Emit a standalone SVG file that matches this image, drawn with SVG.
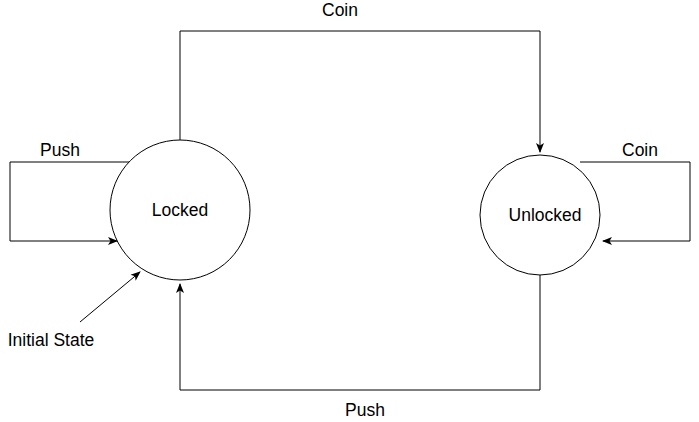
<svg xmlns="http://www.w3.org/2000/svg" width="699" height="422" viewBox="0 0 699 422">
<style>
.n{fill:#fff;stroke:#000;stroke-width:1}
.e{fill:none;stroke:#000;stroke-width:1;marker-end:url(#a)}
text{font-family:"Liberation Sans",Arial,sans-serif;font-size:17.5px;fill:#000;text-anchor:middle;dominant-baseline:central}
</style>
<defs>
<marker id="a" viewBox="0 0 10 10" refX="9" refY="5" markerWidth="10" markerHeight="10" markerUnits="userSpaceOnUse" orient="auto">
<path d="M0,1 L10,5 L0,9 L2.5,5 Z" fill="#000"/>
</marker>
</defs>
<rect width="699" height="422" fill="#fff"/>
<g id="edges">
<path class="e" d="M180,140 V31 H540 V152"/>
<path class="e" d="M540,275 V390 H180 V284"/>
<path class="e" d="M131,162 H10 V241 H117"/>
<path class="e" d="M580,162 H690 V241 H603"/>
<path class="e" d="M80,322 L140,272"/>
</g>
<g id="locked"><circle class="n" cx="180" cy="210" r="70"/><text x="180" y="210">Locked</text></g>
<g id="unlocked"><circle class="n" cx="540" cy="215" r="60"/><text x="545" y="215">Unlocked</text></g>
<g id="labels">
<text x="340" y="10">Coin</text>
<text x="365" y="410">Push</text>
<text x="60" y="150">Push</text>
<text x="640" y="150">Coin</text>
<text x="51" y="340">Initial State</text>
</g>
</svg>
